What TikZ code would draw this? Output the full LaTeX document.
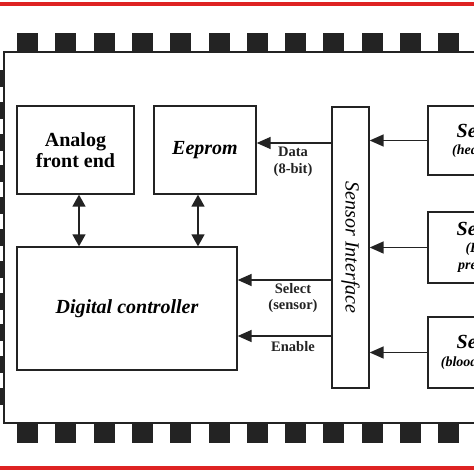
\documentclass[tikz,border=0pt]{standalone}
\usepackage{fontspec}
\setmainfont{Liberation Serif}
\usetikzlibrary{arrows.meta}
\definecolor{redline}{RGB}{222,34,34}
\definecolor{ink}{RGB}{35,35,35}
\tikzset{
  blk/.style={draw=ink, line width=1.3pt, rectangle, inner sep=0pt, align=center},
  arr/.style={draw=ink, line width=1.5pt, -{Triangle[length=14pt,width=12pt]}},
  darr/.style={draw=ink, line width=1.5pt, {Triangle[length=12pt,width=13pt]}-{Triangle[length=12pt,width=13pt]}},
  pin/.style={fill=ink, draw=none},
  big/.style={font=\fontsize{20}{21}\selectfont\bfseries},
  bigit/.style={font=\fontsize{20}{21}\selectfont\bfseries\itshape},
  lab/.style={font=\fontsize{14.5}{16.5}\selectfont\bfseries, align=center, inner sep=0pt, text=ink},
}
\begin{document}
\begin{tikzpicture}[x=1pt,y=-1pt]
\useasboundingbox (0,0) rectangle (474,474);
\clip (0,0) rectangle (474,474);
\fill[white] (0,0) rectangle (474,474);
% red lines
\draw[redline, line width=3.6pt] (0,4) -- (474,4);
\draw[redline, line width=3.6pt] (0,468) -- (474,468);
% pins
\foreach \i in {0,...,11} {
  \fill[pin] (17+38.3*\i,33) rectangle ++(21,19);
  \fill[pin] (17+38.3*\i,423) rectangle ++(21,20);
}
\foreach \i in {0,...,10} {
  \fill[pin] (-4,70+31.8*\i) rectangle ++(9,17);
}
% chip outline
\draw[ink, line width=1.5pt, fill=white] (4,52) rectangle (620,423);
% blocks
\node[blk, big, minimum width=117pt, minimum height=88pt] (A) at (75.5,150) {Analog\\front end};
\node[blk, bigit, minimum width=102pt, minimum height=88pt] (E) at (205,150) {Eeprom};
\node[blk, bigit, minimum width=220pt, minimum height=123pt] (D) at (127,308.5) {Digital controller};
\node[blk, minimum width=37pt, minimum height=281pt] (SI) at (350.5,247.5) {};
\node[font=\fontsize{20}{21}\selectfont\itshape, rotate=-90, inner sep=0pt] (SIt) at (SI.center) {Sensor Interface};
\node[blk, minimum width=114pt, minimum height=69pt, font=\fontsize{14}{17}\selectfont\bfseries\itshape] (S1) at (485,140.5) {{\fontsize{20}{21}\selectfont Sensor}\\(heart rate)};
\node[blk, minimum width=114pt, minimum height=71pt, font=\fontsize{14}{17}\selectfont\bfseries\itshape] (S2) at (485,247.5) {{\fontsize{20}{21}\selectfont Sensor}\\(Blood\\pressure)};
\node[blk, minimum width=114pt, minimum height=71pt, font=\fontsize{14}{18}\selectfont\bfseries\itshape] (S3) at (485,352.5) {{\fontsize{20}{21}\selectfont Sensor}\\(blood glucose)};
% double arrows
\coordinate (ax) at (79,0);
\coordinate (ex) at (198,0);
\draw[darr] (ax |- A.south) -- (ax |- D.north);
\draw[darr] (ex |- E.south) -- (ex |- D.north);
% interface to controller / eeprom
\coordinate (yd) at (0,143);
\coordinate (ys) at (0,280);
\coordinate (ye) at (0,336);
\draw[arr] (SI.west |- yd) -- (E.east |- yd);
\draw[arr] (SI.west |- ys) -- (D.east |- ys);
\draw[arr] (SI.west |- ye) -- (D.east |- ye);
\node[lab] (ld) at (293,162) {Data\\(8-bit)};
\node[lab] (ls) at (293,298) {Select\\(sensor)};
\node[lab] (le) at (293,347) {Enable};
% sensors to interface
\draw[arr] (S1.west) -- (SI.east |- S1.west);
\draw[arr] (S2.west) -- (SI.east |- S2.west);
\draw[arr] (S3.west) -- (SI.east |- S3.west);
\end{tikzpicture}
\end{document}
